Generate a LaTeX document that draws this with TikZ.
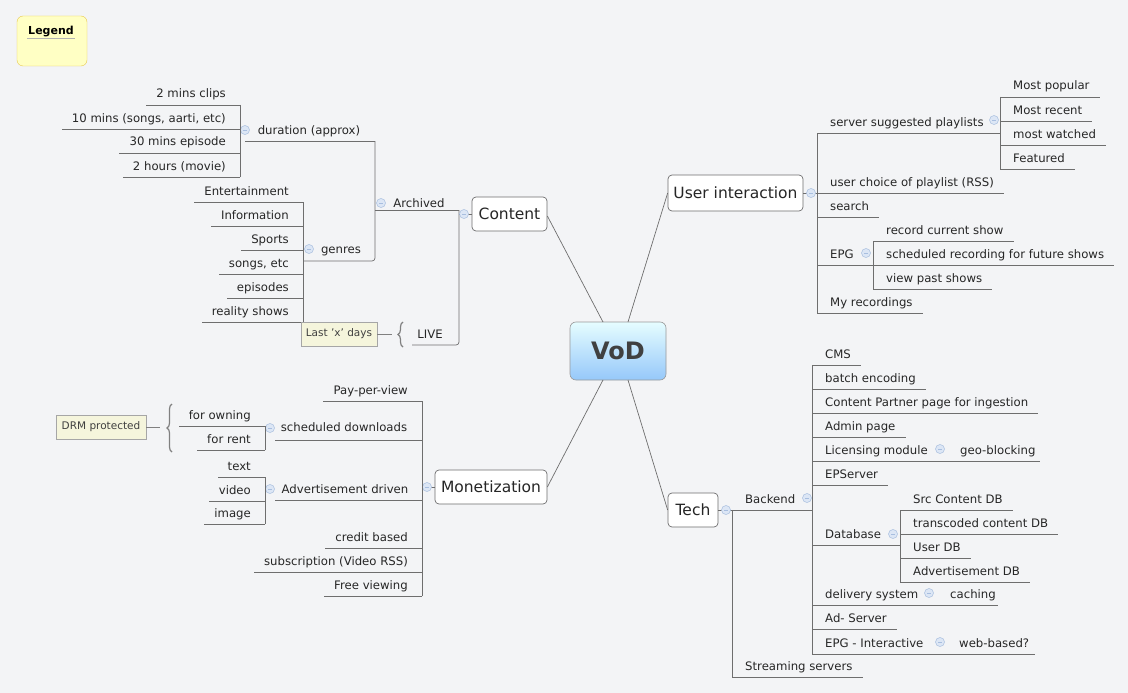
\documentclass[tikz,border=0pt]{standalone}
\usepackage{fontspec}
\setmainfont{DejaVu Sans}
\usetikzlibrary{decorations.pathreplacing}
\definecolor{bg}{HTML}{F3F4F6}
\definecolor{ln}{HTML}{6E6E6E}
\definecolor{ccf}{HTML}{DCE6F5}
\definecolor{ccd}{HTML}{A8BEDF}
\definecolor{note}{HTML}{F5F5DC}
\tikzset{
 lf/.style={inner sep=0pt,font=\fontsize{11.7}{13}\selectfont,text=black!85},
 ln/.style={draw=ln,line width=0.7pt},
 topic/.style={draw=ln,fill=white,rounded corners=4pt,line width=0.7pt,font=\fontsize{15.5}{17}\selectfont,inner sep=0pt,minimum height=34pt,text=black!85},
 cc/.style={circle,draw=ccd,fill=ccf,minimum size=9pt,inner sep=0pt,line width=0.5pt,
   path picture={\draw[ccd,line width=0.6pt](path picture bounding box.center)++(-2pt,0)--++(4pt,0);}},
 notebox/.style={draw=gray!70,fill=note,font=\fontsize{10.5}{12}\selectfont,inner sep=0pt,minimum height=24pt,text=black!75},
 br/.style={draw=gray,line width=1.2pt,decorate,decoration={brace,amplitude=5pt}}
}
\newcommand\RL[4]{\node[lf,anchor=base west] (#1) at (#2+13,#3-7) {#4};
 \draw[ln] (#2,#3) -- ([xshift=10pt]#1.east |- 0,#3);}
\newcommand\RLE[5]{\node[lf,anchor=base west] (#1) at (#2+13,#3-7) {#5};
 \draw[ln] (#2,#3) -- (#4,#3);}
\newcommand\LL[4]{\node[lf,anchor=base east] (#1) at (#2-14,#3-7) {#4};
 \draw[ln] (#2,#3) -- ([xshift=-10pt]#1.west |- 0,#3);}
\newcommand\CC[2]{\node[cc] at (#1,#2) {};}
\begin{document}
\begin{tikzpicture}[x=1pt,y=-1pt]
\fill[bg] (0,0) rectangle (1128,693);
\useasboundingbox (0,0) rectangle (1128,693);
% legend
\node[draw={rgb,255:red,232;green,200;blue,75},fill={rgb,255:red,255;green,255;blue,196},rounded corners=6pt,minimum width=70pt,minimum height=50pt] (legend) at (52,41) {};
\node[font=\fontsize{11}{12}\selectfont\bfseries,inner sep=1pt] (legendt) at (51,32) {Legend};
\draw[gray!60] (legendt.south west) -- (legendt.south east);
% central
\node[draw=ln!70,rounded corners=6pt,top color=blue!8!cyan!10,bottom color={rgb,255:red,150;green,200;blue,250},minimum width=96pt,minimum height=58pt,font=\fontsize{24}{26}\selectfont\bfseries,text=black!75,line width=0.6pt] (vod) at (618,351) {VoD};
\node[topic,minimum width=75pt] (content) at (509.5,214) {Content};
\node[topic,minimum width=135pt,minimum height=36pt] (ui) at (735.5,193) {User interaction};
\node[topic,minimum width=112pt] (mon) at (491,487) {Monetization};
\node[topic,minimum width=50pt] (tech) at (693,510) {Tech};
\draw[ln] (content.east) ++(0,2) -- (603,322);
\draw[ln] (ui.west) -- (628,322);
\draw[ln] (mon.east) -- (603,380);
\draw[ln] (tech.west) -- (628,380);
% ---------- Content
\draw[ln] (content.west) -- (459,214);
\draw[ln,rounded corners=3pt] (459,210) -- (459,345) -- (412,345);
\CC{464}{214}
\node[lf,anchor=base] (archived) at (419,207) {Archived};
\draw[ln] (459,210) -- (375,210);
\CC{381}{203}
\node[lf,anchor=base] (live) at (430,338) {LIVE};
\draw[ln,rounded corners=3pt] (375,141) -- (375,261) -- (303,261);
\node[lf,anchor=base] (duration) at (309,134) {duration (approx)};
\draw[ln] (375,141) -- (245,141);
\CC{245}{130}
\node[lf,anchor=base] (genres) at (341,253) {genres};
\CC{309}{249}
\draw[ln] (240,105) -- (240,177);
\LL{c1}{240}{105}{2 mins clips}
\LL{c2}{240}{129}{10 mins (songs, aarti, etc)}
\LL{c3}{240}{153}{30 mins episode}
\LL{c4}{240}{177}{2 hours (movie)}
\draw[ln] (303,202) -- (303,322);
\LL{g1}{303}{202}{Entertainment}
\LL{g2}{303}{226}{Information}
\LL{g3}{303}{250}{Sports}
\LL{g4}{303}{274}{songs, etc}
\LL{g5}{303}{298}{episodes}
\LL{g6}{303}{322}{reality shows}
\node[notebox,minimum width=76pt] (lastx) at (339,334) {Last 'x' days};
\draw[br] (403,347) -- (403,322);
\draw[gray,line width=1pt] (lastx.east) -- (392,334);
% ---------- Monetization
\draw[ln] (mon.west) -- (422,487);
\CC{427}{487}
\draw[ln] (422,401) -- (422,596);
\LL{m1}{422}{401}{Pay-per-view}
\node[lf,anchor=base] (sched) at (344,431) {scheduled downloads};
\draw[ln] (422,440) -- (275,440);
\CC{270}{428}
\node[lf,anchor=base] (adv) at (345,493) {Advertisement driven};
\draw[ln] (422,500) -- (275,500);
\CC{270}{489}
\LL{m4}{422}{548}{credit based}
\LL{m5}{422}{572}{subscription (Video RSS)}
\LL{m6}{422}{596}{Free viewing}
\draw[ln] (265,426) -- (265,450);
\LL{s1}{265}{426}{for owning}
\LL{s2}{265}{450}{for rent}
\draw[ln] (265,477) -- (265,524);
\LL{a1}{265}{477}{text}
\LL{a2}{265}{501}{video}
\LL{a3}{265}{524}{image}
\node[notebox,minimum width=90pt] (drm) at (101,427) {DRM protected};
\draw[br] (172,452) -- (172,404);
\draw[gray,line width=1pt] (drm.east) -- (160,427);
% ---------- User interaction
\draw[ln] (ui.east) -- (817,193);
\CC{811}{193}
\draw[ln] (817,133) -- (817,313);
\RLE{u1}{817}{133}{1000}{server suggested playlists}
\CC{994}{120}
\RL{u2}{817}{193}{user choice of playlist (RSS)}
\RL{u3}{817}{217}{search}
\RLE{u4}{817}{265}{873}{EPG}
\CC{866}{253}
\RL{u5}{817}{313}{My recordings}
\draw[ln] (1000,97) -- (1000,169);
\RL{p1}{1000}{97}{Most popular}
\RL{p2}{1000}{121}{Most recent}
\RL{p3}{1000}{145}{most watched}
\RL{p4}{1000}{169}{Featured}
\draw[ln] (873,241) -- (873,289);
\RL{e1}{873}{241}{record current show}
\RL{e2}{873}{265}{scheduled recording for future shows}
\RL{e3}{873}{289}{view past shows}
% ---------- Tech
\draw[ln] (tech.east) -- (732,510);
\CC{726}{510}
\draw[ln] (732,510) -- (732,677);
\RLE{t1}{732}{510}{812}{Backend}
\CC{807}{498}
\RL{t2}{732}{677}{Streaming servers}
\draw[ln] (812,365) -- (812,654);
\RL{b1}{812}{365}{CMS}
\RL{b2}{812}{389}{batch encoding}
\RL{b3}{812}{413}{Content Partner page for ingestion}
\RL{b4}{812}{437}{Admin page}
\RLE{b5}{812}{461}{1040}{Licensing module}
\CC{940}{449}
\node[lf,anchor=base west] (geo) at (960,454) {geo-blocking};
\RL{b6}{812}{485}{EPServer}
\RLE{b7}{812}{545}{900}{Database}
\CC{893}{534}
\RLE{b8}{812}{605}{998}{delivery system}
\CC{929}{593}
\node[lf,anchor=base west] (cach) at (950,598) {caching};
\RL{b9}{812}{629}{Ad- Server}
\RLE{b10}{812}{654}{1035}{EPG - Interactive}
\CC{940}{642}
\node[lf,anchor=base west] (web) at (959,647) {web-based?};
\draw[ln] (900,510) -- (900,582);
\RL{d1}{900}{510}{Src Content DB}
\RL{d2}{900}{534}{transcoded content DB}
\RL{d3}{900}{558}{User DB}
\RL{d4}{900}{582}{Advertisement DB}
\end{tikzpicture}
\end{document}
